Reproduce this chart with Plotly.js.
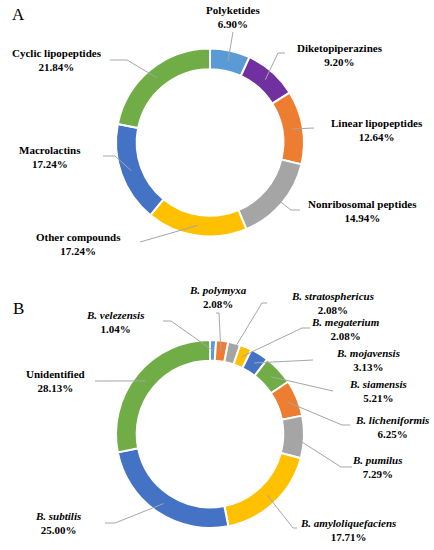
<!DOCTYPE html>
<html><head><meta charset="utf-8">
<script src="https://cdn.plot.ly/plotly-3.0.1.min.js"></script>
<style>html,body{margin:0;padding:0;background:#fff}#chart{width:434px;height:550px}</style>
</head><body><div id="chart"></div>
<script>
// ---- Data ----
const catA = ['Polyketides','Diketopiperazines','Linear lipopeptides','Nonribosomal peptides','Other compounds','Macrolactins','Cyclic lipopeptides'];
const valA = [6.90, 9.20, 12.64, 14.94, 17.24, 17.24, 21.84];
const catB = ['B. velezensis','B. polymyxa','B. stratosphericus','B. megaterium','B. mojavensis','B. siamensis','B. licheniformis','B. pumilus','B. amyloliquefaciens','B. subtilis','Unidentified'];
const valB = [1.04, 2.08, 2.08, 2.08, 3.13, 5.21, 6.25, 7.29, 17.71, 25.00, 28.13];
const italicB = [true,true,true,true,true,true,true,true,true,true,false];

// ---- Styles / positions ----
const colA = ['#5B9BD5','#7030A0','#ED7D31','#A5A5A5','#FFC000','#4472C4','#70AD47'];
const colB = ['#5B9BD5','#ED7D31','#A5A5A5','#FFC000','#4472C4','#70AD47','#ED7D31','#A5A5A5','#FFC000','#4472C4','#70AD47'];
const W = 434, H = 550;
const centerA = [210, 142.5], centerB = [210, 434], R = 94, HOLE = 0.78;
const labelPosA = [[233,17],[340,55],[377,130],[362,211],[78,243.5],[50,157],[57,60]];
const leaderA = [[233,32,233],[278,53,285],[314,128,314],[291,210,300],[140,242,140],[115,156,103],[127,60,110]];
const labelPosB = [[115,321.5],[218,297],[332,302.5],[345,329],[368,360.5],[378,391],[392,426.5],[377,466.5],[348,529.5],[58,522.5],[55,381]];
const leaderB = [[171,321,163],[219,313,216],[262,303,267],[302,328,310],[313,360,313],[333,391,333],[342,425,350],[341,467,352],[293,528,297],[115,523,105],[95,381,95]];

const px = x => x / W, py = y => 1 - y / H;
const FONT = 'Liberation Serif, Times New Roman, serif';

function pieTrace(cats, vals, cols, c) {
  return {
    type: 'pie', labels: cats, values: vals, sort: false, direction: 'clockwise', rotation: 0,
    hole: HOLE, textinfo: 'none', hoverinfo: 'label+percent', showlegend: false,
    marker: {colors: cols, line: {color: '#ffffff', width: 2}},
    domain: {x: [px(c[0]-R), px(c[0]+R)], y: [py(c[1]+R), py(c[1]-R)]}
  };
}

const annotations = [], shapes = [];
function addLabels(cats, vals, c, labelPos, leader, italic) {
  const total = vals.reduce((a,b)=>a+b,0);
  let cum = 0;
  const rMid = R * (1 + HOLE) / 2;
  cats.forEach((cat, i) => {
    const mid = (cum + vals[i] / 2) / total; cum += vals[i];
    const th = mid * 2 * Math.PI;
    const sx = c[0] + rMid * Math.sin(th), sy = c[1] - rMid * Math.cos(th);
    const [ex, ey, hx] = leader[i];
    shapes.push({type:'path', xref:'paper', yref:'paper',
      path: `M ${px(sx)},${py(sy)} L ${px(ex)},${py(ey)} L ${px(hx)},${py(ey)}`,
      line: {color:'#A6A6A6', width:1}});
    const name = italic && italic[i] ? `<b><i>${cat}</i></b>` : `<b>${cat}</b>`;
    annotations.push({xref:'paper', yref:'paper', x: px(labelPos[i][0]), y: py(labelPos[i][1]),
      xanchor:'center', yanchor:'middle', showarrow:false, align:'center',
      text: `${name}<br><b>${vals[i].toFixed(2)}%</b>`,
      font: {family: FONT, size: 11, color: '#000'}});
  });
}
addLabels(catA, valA, centerA, labelPosA, leaderA, null);
addLabels(catB, valB, centerB, labelPosB, leaderB, italicB);
annotations.push({xref:'paper', yref:'paper', x: px(10), y: py(15), xanchor:'left', yanchor:'middle', showarrow:false, text:'A', font:{family:FONT, size:17, color:'#000'}});
annotations.push({xref:'paper', yref:'paper', x: px(11), y: py(308), xanchor:'left', yanchor:'middle', showarrow:false, text:'B', font:{family:FONT, size:17, color:'#000'}});

Plotly.newPlot('chart', [pieTrace(catA, valA, colA, centerA), pieTrace(catB, valB, colB, centerB)], {
  width: W, height: H, margin: {l:0, r:0, t:0, b:0}, paper_bgcolor:'#fff', plot_bgcolor:'#fff',
  annotations, shapes
}, {displayModeBar:false, staticPlot:true});
</script></body></html>
